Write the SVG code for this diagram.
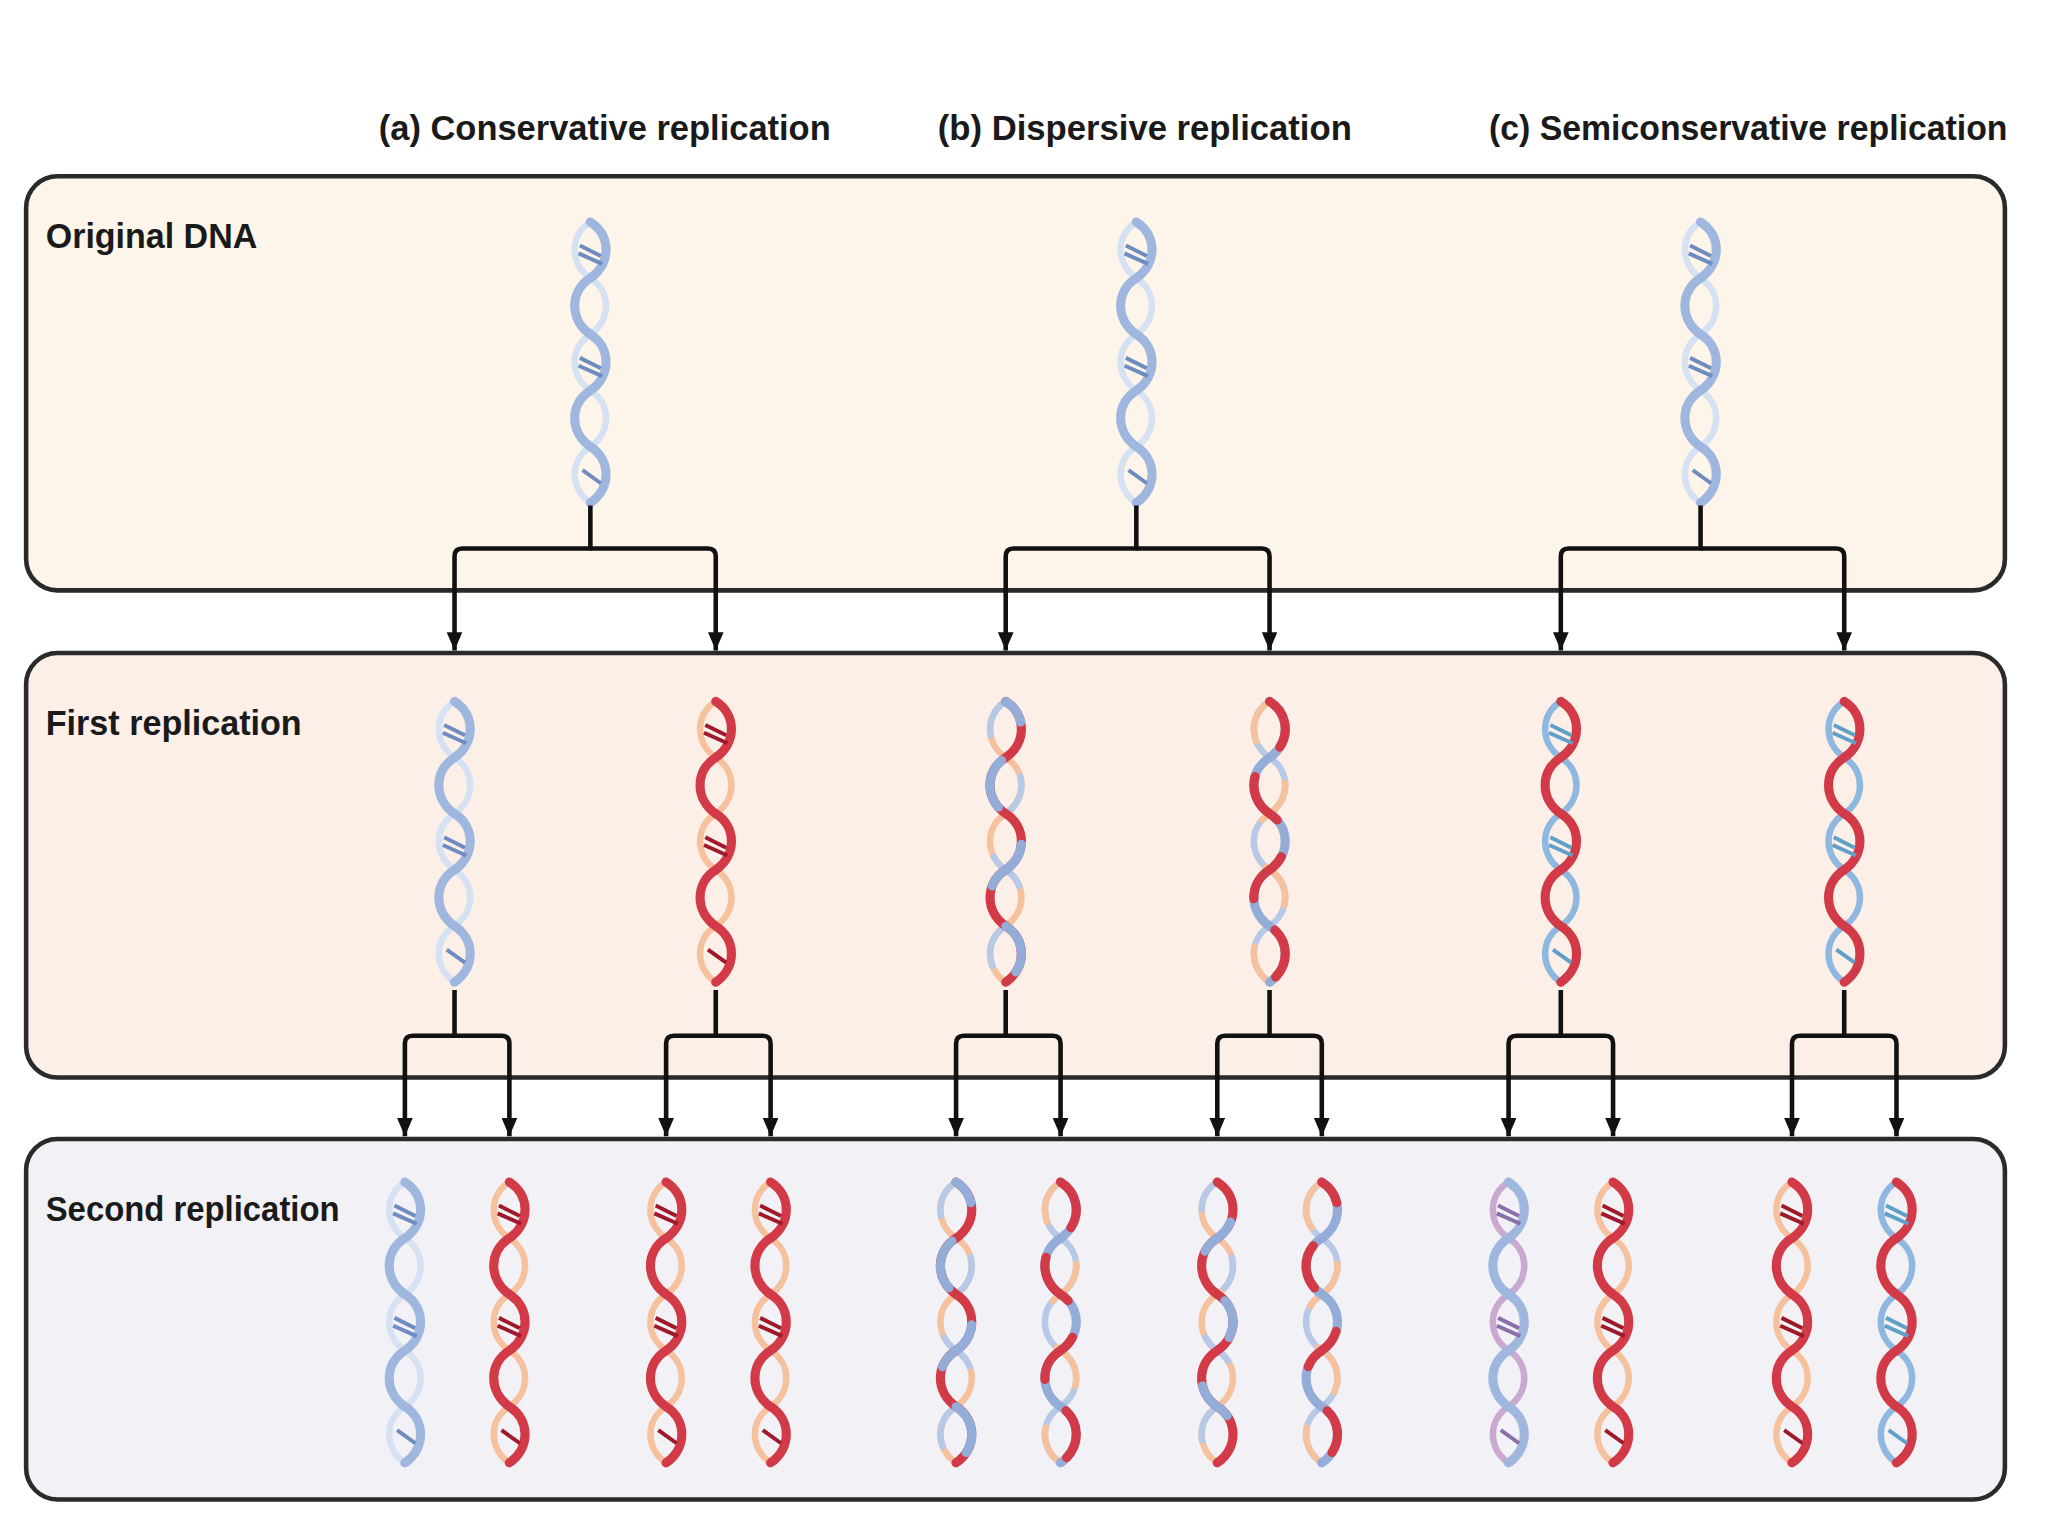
<svg xmlns="http://www.w3.org/2000/svg" width="2048" height="1536" viewBox="0 0 2048 1536">
<style>
.t{font-family:"Liberation Sans","DejaVu Sans",sans-serif;font-weight:bold;font-size:27px;fill:#1a1a1a}
.box{stroke:#2a2a2a;stroke-width:3.5}
.c{fill:none;stroke:#111;stroke-width:3.5}
.sa{fill:none;stroke-width:7;stroke-linecap:round}
.sb{fill:none;stroke-width:5;stroke-linecap:round}
</style>
<defs>
<marker id="ah" markerWidth="10" markerHeight="10" refX="5" refY="8" orient="auto-start-reverse" markerUnits="userSpaceOnUse" viewBox="0 0 10 10">
<path d="M0,0 L10,0 L5,10 Z" fill="#111" transform="rotate(-90 5 5)"/>
</marker>
<marker id="ad" markerWidth="12" markerHeight="14" refX="6" refY="14" orient="0" markerUnits="userSpaceOnUse" viewBox="0 0 12 14">
<path d="M0,0 L12,0 L6,14 Z" fill="#111"/>
</marker>
<path id="sA" d="M0,0 C16,10 16,32 0,43 C-16,53 -16,75 0,86 C16,96 16,118 0,129 C-16,139 -16,161 0,172 C16,182 16,204 0,215"/>
<path id="sB" d="M0,0 C-16,10 -16,32 0,43 C16,53 16,75 0,86 C-16,96 -16,118 0,129 C16,139 16,161 0,172 C-16,182 -16,204 0,215"/>
<g id="rungs" stroke-width="3" fill="none">
<path d="M-8,18 L8,26 M-9,24 L9,32 M-8,104 L8,112 M-9,110 L9,118 M-6,190 L8,200"/>
</g>
</defs>
<rect width="2048" height="1536" fill="#ffffff"/>
<g transform="scale(1.30612)">
<g id="titles">
<text class="t" x="290" y="107" textLength="346" lengthAdjust="spacingAndGlyphs">(a)  Conservative replication</text>
<text class="t" x="718" y="107" textLength="317" lengthAdjust="spacingAndGlyphs">(b)  Dispersive replication</text>
<text class="t" x="1140" y="107" textLength="397" lengthAdjust="spacingAndGlyphs">(c)  Semiconservative replication</text>
</g>
<g id="box-original"><rect class="box" x="20" y="135" width="1515" height="317" rx="24" fill="#fdf5e9" stroke="#8a8a80"/><text class="t" x="35" y="190" textLength="162" lengthAdjust="spacingAndGlyphs">Original DNA</text></g>
<g id="box-first"><rect class="box" x="20" y="500" width="1515" height="325" rx="24" fill="#fbefe8"/><text class="t" x="35" y="563" textLength="196" lengthAdjust="spacingAndGlyphs">First replication</text></g>
<g id="box-second"><rect class="box" x="20" y="872" width="1515" height="276" rx="24" fill="#f1f1f6"/><text class="t" x="35" y="935" textLength="225" lengthAdjust="spacingAndGlyphs">Second replication</text></g>

<!-- helix templates via use: blue-blue, red-red, semi, dispersive -->
<g id="helices">
<!-- Original -->
<g id="h0a" transform="translate(452,170)"><use href="#sB" class="sb" stroke="#d6e2f3"/><use href="#sA" class="sa" stroke="#9fb7de"/><use href="#rungs" stroke="#6f8cc0"/></g>
<g id="h0b" transform="translate(870,170)"><use href="#sB" class="sb" stroke="#d6e2f3"/><use href="#sA" class="sa" stroke="#9fb7de"/><use href="#rungs" stroke="#6f8cc0"/></g>
<g id="h0c" transform="translate(1302,170)"><use href="#sB" class="sb" stroke="#d6e2f3"/><use href="#sA" class="sa" stroke="#9fb7de"/><use href="#rungs" stroke="#6f8cc0"/></g>
<!-- First replication -->
<g id="h1a1" transform="translate(348,537)"><use href="#sB" class="sb" stroke="#d6e2f3"/><use href="#sA" class="sa" stroke="#9fb7de"/><use href="#rungs" stroke="#6f8cc0"/></g>
<g id="h1a2" transform="translate(548,537)"><use href="#sB" class="sb" stroke="#f6c29e"/><use href="#sA" class="sa" stroke="#d23a48"/><use href="#rungs" stroke="#9e1a2a"/></g>
<g id="h1b1" transform="translate(770,537)"><use href="#sB" class="sb" stroke="#f6c29e"/><use href="#sB" class="sb" stroke="#b7c9e6" stroke-dasharray="30 40"/><use href="#sA" class="sa" stroke="#d23a48"/><use href="#sA" class="sa" stroke="#93acd8" stroke-dasharray="40 35" stroke-dashoffset="20"/></g>
<g id="h1b2" transform="translate(972,537)"><use href="#sB" class="sb" stroke="#b7c9e6"/><use href="#sB" class="sb" stroke="#f6c29e" stroke-dasharray="35 40"/><use href="#sA" class="sa" stroke="#93acd8"/><use href="#sA" class="sa" stroke="#d23a48" stroke-dasharray="40 30"/></g>
<g id="h1c1" transform="translate(1195,537)"><use href="#sB" class="sb" stroke="#8fb8e0"/><use href="#sA" class="sa" stroke="#d23a48"/><use href="#rungs" stroke="#5fa0c8"/></g>
<g id="h1c2" transform="translate(1412,537)"><use href="#sB" class="sb" stroke="#8fb8e0"/><use href="#sA" class="sa" stroke="#d23a48"/><use href="#rungs" stroke="#5fa0c8"/></g>
<!-- Second replication -->
<g transform="translate(310,905)"><use href="#sB" class="sb" stroke="#d6e2f3"/><use href="#sA" class="sa" stroke="#9fb7de"/><use href="#rungs" stroke="#6f8cc0"/></g>
<g transform="translate(390,905)"><use href="#sB" class="sb" stroke="#f6c29e"/><use href="#sA" class="sa" stroke="#d23a48"/><use href="#rungs" stroke="#9e1a2a"/></g>
<g transform="translate(510,905)"><use href="#sB" class="sb" stroke="#f6c29e"/><use href="#sA" class="sa" stroke="#d23a48"/><use href="#rungs" stroke="#9e1a2a"/></g>
<g transform="translate(590,905)"><use href="#sB" class="sb" stroke="#f6c29e"/><use href="#sA" class="sa" stroke="#d23a48"/><use href="#rungs" stroke="#9e1a2a"/></g>
<g transform="translate(732,905)"><use href="#sB" class="sb" stroke="#f6c29e"/><use href="#sB" class="sb" stroke="#b7c9e6" stroke-dasharray="30 40"/><use href="#sA" class="sa" stroke="#d23a48"/><use href="#sA" class="sa" stroke="#93acd8" stroke-dasharray="40 35" stroke-dashoffset="20"/></g>
<g transform="translate(812,905)"><use href="#sB" class="sb" stroke="#b7c9e6"/><use href="#sB" class="sb" stroke="#f6c29e" stroke-dasharray="35 40"/><use href="#sA" class="sa" stroke="#93acd8"/><use href="#sA" class="sa" stroke="#d23a48" stroke-dasharray="40 30"/></g>
<g transform="translate(932,905)"><use href="#sB" class="sb" stroke="#f6c29e"/><use href="#sB" class="sb" stroke="#b7c9e6" stroke-dasharray="25 45"/><use href="#sA" class="sa" stroke="#d23a48"/><use href="#sA" class="sa" stroke="#93acd8" stroke-dasharray="30 45" stroke-dashoffset="40"/></g>
<g transform="translate(1012,905)"><use href="#sB" class="sb" stroke="#b7c9e6"/><use href="#sB" class="sb" stroke="#f6c29e" stroke-dasharray="40 35"/><use href="#sA" class="sa" stroke="#93acd8"/><use href="#sA" class="sa" stroke="#d23a48" stroke-dasharray="35 40" stroke-dashoffset="15"/></g>
<g transform="translate(1155,905)"><use href="#sB" class="sb" stroke="#c9a9d0"/><use href="#sA" class="sa" stroke="#9fb7de"/><use href="#rungs" stroke="#8a6fa8"/></g>
<g transform="translate(1235,905)"><use href="#sB" class="sb" stroke="#f6c29e"/><use href="#sA" class="sa" stroke="#d23a48"/><use href="#rungs" stroke="#9e1a2a"/></g>
<g transform="translate(1372,905)"><use href="#sB" class="sb" stroke="#f6c29e"/><use href="#sA" class="sa" stroke="#d23a48"/><use href="#rungs" stroke="#9e1a2a"/></g>
<g transform="translate(1452,905)"><use href="#sB" class="sb" stroke="#8fb8e0"/><use href="#sA" class="sa" stroke="#d23a48"/><use href="#rungs" stroke="#5fa0c8"/></g>
</g>

<g id="connectors" class="c">
<path class="c" d="M452,387 V420 H354 Q348,420 348,426 V498" marker-end="url(#ad)"/>
<path class="c" d="M452,420 H542 Q548,420 548,426 V498" marker-end="url(#ad)"/>
<path class="c" d="M870,387 V420 H776 Q770,420 770,426 V498" marker-end="url(#ad)"/>
<path class="c" d="M870,420 H966 Q972,420 972,426 V498" marker-end="url(#ad)"/>
<path class="c" d="M1302,387 V420 H1201 Q1195,420 1195,426 V498" marker-end="url(#ad)"/>
<path class="c" d="M1302,420 H1406 Q1412,420 1412,426 V498" marker-end="url(#ad)"/>

<path class="c" d="M348,758 V793 H316 Q310,793 310,799 V870" marker-end="url(#ad)"/>
<path class="c" d="M348,793 H384 Q390,793 390,799 V870" marker-end="url(#ad)"/>
<path class="c" d="M548,758 V793 H516 Q510,793 510,799 V870" marker-end="url(#ad)"/>
<path class="c" d="M548,793 H584 Q590,793 590,799 V870" marker-end="url(#ad)"/>
<path class="c" d="M770,758 V793 H738 Q732,793 732,799 V870" marker-end="url(#ad)"/>
<path class="c" d="M770,793 H806 Q812,793 812,799 V870" marker-end="url(#ad)"/>
<path class="c" d="M972,758 V793 H938 Q932,793 932,799 V870" marker-end="url(#ad)"/>
<path class="c" d="M972,793 H1006 Q1012,793 1012,799 V870" marker-end="url(#ad)"/>
<path class="c" d="M1195,758 V793 H1161 Q1155,793 1155,799 V870" marker-end="url(#ad)"/>
<path class="c" d="M1195,793 H1229 Q1235,793 1235,799 V870" marker-end="url(#ad)"/>
<path class="c" d="M1412,758 V793 H1378 Q1372,793 1372,799 V870" marker-end="url(#ad)"/>
<path class="c" d="M1412,793 H1446 Q1452,793 1452,799 V870" marker-end="url(#ad)"/>
</g>
</g>
</svg>
